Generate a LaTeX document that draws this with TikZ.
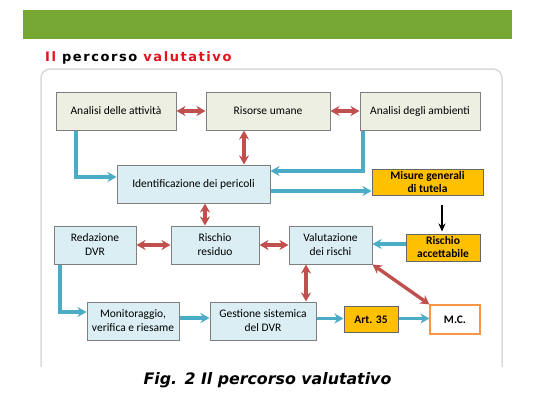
\documentclass[tikz,border=0pt]{standalone}
\usepackage{fontspec}
\setmainfont{Carlito}
\newfontfamily\titolofont{DejaVu Sans}[LetterSpace=12]
\newfontfamily\didafont{DejaVu Sans}
\usepackage{tikz}
\usetikzlibrary{arrows.meta}
\definecolor{verde}{HTML}{77A833}
\definecolor{rossotitolo}{HTML}{E3101E}
\definecolor{beigec}{HTML}{EDEFE3}
\definecolor{celestec}{HTML}{DAEEF3}
\definecolor{giallc}{HTML}{FFC000}
\definecolor{aranc}{HTML}{F79646}
\definecolor{bordoc}{HTML}{7F7F7F}
\definecolor{rossoc}{HTML}{C0504D}
\definecolor{bluc}{HTML}{4BACC6}
\definecolor{cornicec}{HTML}{DADADA}
\tikzstyle{grigio} = [rectangle, minimum height=38pt, inner sep=2pt, text centered, align=center, draw=bordoc, fill=beigec, line width=1pt, font=\fontsize{11.5}{14}\selectfont]
\tikzstyle{azzurro} = [rectangle, minimum height=38pt, inner sep=2pt, text centered, align=center, draw=bordoc, fill=celestec, line width=1pt, font=\fontsize{11.5}{14}\selectfont]
\tikzstyle{misura} = [rectangle, minimum height=26pt, text centered, align=center, draw=bordoc!80!black, fill=giallc, line width=1pt, inner sep=1pt, font=\fontsize{11.5}{13}\selectfont\bfseries]
\tikzstyle{mcbox} = [rectangle, minimum height=29pt, text centered, draw=aranc, fill=white, line width=1.2pt, font=\fontsize{11.5}{13}\selectfont\bfseries]
\tikzstyle{rossa} = [line width=3.4pt, draw=rossoc, {Stealth[length=9pt,width=10pt]}-{Stealth[length=9pt,width=10pt]}]
\tikzstyle{blu} = [line width=3.4pt, draw=bluc, -{Stealth[length=9pt,width=10pt]}]
\tikzstyle{nera} = [line width=1.6pt, draw=black, -{Stealth[length=8pt,width=7pt]}]

\begin{document}
\begin{tikzpicture}[x=1pt, y=-1pt, node distance=152pt]
\useasboundingbox (0,0) rectangle (548,404);

\fill[verde] (23,10) rectangle (512,39);
\node(titolo) [anchor=base west, inner sep=0pt, font=\titolofont\bfseries\fontsize{13}{15}\selectfont] at (45,61) {\textcolor{rossotitolo}{Il} percorso \textcolor{rossotitolo}{valutativo}};
\draw[cornicec, line width=1.5pt, rounded corners=9pt] (41,367) -- (41,69) -- (502,69) -- (502,367);

\node(attiv) [grigio, minimum width=120pt] at (116,111) {Analisi delle attività};
\node(risorse) [grigio, minimum width=124pt, right of = attiv] {Risorse umane};
\node(ambienti) [grigio, minimum width=120pt, right of = risorse] {Analisi degli ambienti};
\node(ident) [azzurro, minimum width=153pt, below of = attiv, node distance=73pt, xshift=77.5pt] {Identificazione dei pericoli};
\node(misure) [misura, minimum width=111pt, right of = ident, node distance=234pt, yshift=2pt] {Misure generali\\di tutela};
\node(redaz) [azzurro, minimum width=82pt] at (95,245) {Redazione\\DVR};
\node(residuo) [azzurro, minimum width=88pt, right of = redaz, node distance=120pt] {Rischio\\residuo};
\node(valut) [azzurro, minimum width=83pt, right of = residuo, node distance=115.5pt] {Valutazione\\dei rischi};
\node(accett) [misura, minimum width=74pt, minimum height=27pt, right of = valut, node distance=112.5pt, yshift=-2.5pt] {Rischio\\accettabile};
\node(monit) [azzurro, minimum width=92pt, below of = redaz, node distance=76pt, xshift=38pt] {Monitoraggio,\\verifica e riesame};
\node(gest) [azzurro, minimum width=106pt, right of = monit, node distance=130pt] {Gestione sistemica\\del DVR};
\node(art) [misura, minimum width=54pt, right of = gest, node distance=108pt, yshift=1.5pt] {Art. 35};
\node(mc) [mcbox, minimum width=50pt, right of = art, node distance=84pt] {M.C.};

\draw [rossa] (attiv) -- (risorse);
\draw [rossa] (risorse) -- (ambienti);
\draw [rossa] ([xshift=-24pt]risorse.south) -- ([xshift=-24pt]risorse.south |- ident.north);
\draw [rossa] ([xshift=-10pt]residuo.north) -- ([xshift=-10pt]residuo.north |- ident.south);
\draw [rossa] (redaz) -- (residuo);
\draw [rossa] (residuo) -- (valut);
\draw [rossa] ([xshift=-24.5pt]valut.south) -- ([xshift=-24.5pt]valut.south |- gest.north);
\draw [rossa] (valut.south east) -- (mc.north west);

\draw [blu] ([xshift=-40pt]attiv.south) |- ([yshift=7pt]ident.west);
\draw [blu] ([xshift=-57pt]ambienti.south) |- ([yshift=13pt]ident.east);
\draw [blu] ([yshift=-7pt]ident.east) -- ([yshift=-7pt]ident.east -| misure.west);
\draw [blu] ([yshift=3.5pt]accett.west) -- ([yshift=3.5pt]accett.west -| valut.east);
\draw [blu] ([xshift=-35pt]redaz.south) |- ([yshift=9pt]monit.west);
\draw [blu] ([yshift=3pt]monit.east) -- ([yshift=3pt]monit.east -| gest.west);
\draw [blu] ([yshift=2.5pt]gest.east) -- ([yshift=2.5pt]gest.east -| art.west);
\draw [blu] ([yshift=1pt]art.east) -- ([yshift=1pt]art.east -| mc.west);

\draw [nera] ([xshift=14.5pt, yshift=-9pt]misure.south) -- ([xshift=-1pt, yshift=2pt]accett.north);

\node(dida) [anchor=base, inner sep=0pt, font=\didafont\bfseries\itshape\fontsize{15.8}{18}\selectfont] at (267.5,384) {Fig. 2 Il percorso valutativo};
\end{tikzpicture}
\end{document}
